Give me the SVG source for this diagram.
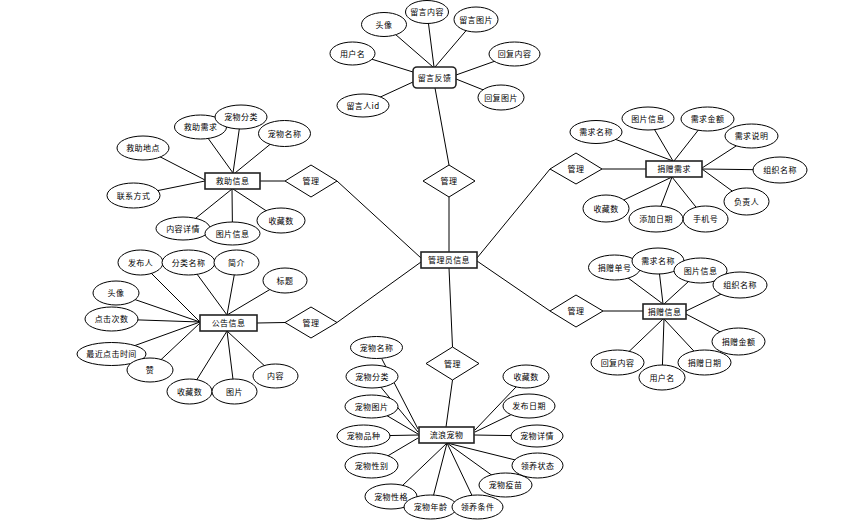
<svg xmlns="http://www.w3.org/2000/svg" width="859" height="526" viewBox="0 0 859 526">
<style>
.bg{fill:#fff}
.ln{stroke:#000;stroke-width:1;fill:none}
.a{fill:#fff;stroke:#000;stroke-width:1}
.e{fill:#fff;stroke:#222;stroke-width:1.6}
.r{fill:#fff;stroke:#000;stroke-width:1}
text{font-family:"Noto Sans CJK SC","Liberation Sans",sans-serif;font-size:8px;letter-spacing:0.4px;text-anchor:middle;fill:#000}
</style>
<rect class="bg" x="0" y="0" width="859" height="526"/>
<g id="connectors">
<!-- 留言反馈 -->
<line class="ln" x1="384" y1="24.5" x2="433" y2="67"/>
<line class="ln" x1="427" y1="12" x2="434" y2="67"/>
<line class="ln" x1="476" y1="19" x2="435" y2="67"/>
<line class="ln" x1="352" y1="53" x2="413" y2="72"/>
<line class="ln" x1="363" y1="105" x2="413" y2="82"/>
<line class="ln" x1="515" y1="54" x2="456" y2="75"/>
<line class="ln" x1="501" y1="97" x2="456" y2="79"/>
<line class="ln" x1="435" y1="88" x2="449" y2="165"/>
<line class="ln" x1="449" y1="197" x2="449" y2="252"/>
<!-- 救助信息 -->
<line class="ln" x1="200" y1="127" x2="233" y2="173"/>
<line class="ln" x1="241" y1="117" x2="233" y2="173"/>
<line class="ln" x1="284" y1="133" x2="235" y2="173"/>
<line class="ln" x1="143" y1="148" x2="205" y2="180"/>
<line class="ln" x1="133.5" y1="195.5" x2="205" y2="181"/>
<line class="ln" x1="183" y1="228.5" x2="232" y2="189"/>
<line class="ln" x1="232.5" y1="233.5" x2="232" y2="189"/>
<line class="ln" x1="281" y1="220.5" x2="233" y2="189"/>
<line class="ln" x1="260" y1="181" x2="285" y2="181"/>
<line class="ln" x1="337" y1="181" x2="421" y2="258"/>
<!-- 捐赠需求 -->
<line class="ln" x1="596" y1="132" x2="673" y2="161"/>
<line class="ln" x1="648" y1="118.5" x2="673" y2="161"/>
<line class="ln" x1="707" y1="119" x2="674" y2="161"/>
<line class="ln" x1="751.5" y1="136" x2="702" y2="168"/>
<line class="ln" x1="780" y1="170" x2="702" y2="169"/>
<line class="ln" x1="746.5" y1="201.5" x2="702" y2="169"/>
<line class="ln" x1="705.5" y1="219" x2="672" y2="177"/>
<line class="ln" x1="656" y1="219" x2="672" y2="177"/>
<line class="ln" x1="606" y1="208.5" x2="672" y2="177"/>
<line class="ln" x1="602" y1="169" x2="646" y2="169"/>
<line class="ln" x1="550" y1="169" x2="477" y2="258"/>
<!-- 公告信息 -->
<line class="ln" x1="140.5" y1="262.5" x2="200" y2="322"/>
<line class="ln" x1="188.5" y1="262.5" x2="227" y2="315"/>
<line class="ln" x1="236.5" y1="262.5" x2="227" y2="315"/>
<line class="ln" x1="285" y1="280.5" x2="227" y2="315"/>
<line class="ln" x1="116" y1="293" x2="200" y2="322"/>
<line class="ln" x1="111.5" y1="319" x2="200" y2="322"/>
<line class="ln" x1="111.5" y1="354" x2="200" y2="322"/>
<line class="ln" x1="150" y1="370" x2="200" y2="323"/>
<line class="ln" x1="189.5" y1="391.5" x2="227" y2="331"/>
<line class="ln" x1="234.5" y1="391.5" x2="227" y2="331"/>
<line class="ln" x1="275.5" y1="376" x2="227" y2="331"/>
<line class="ln" x1="257" y1="323" x2="285" y2="322.5"/>
<line class="ln" x1="337" y1="322.5" x2="421" y2="262"/>
<!-- 捐赠信息 -->
<line class="ln" x1="614" y1="267.5" x2="663" y2="304"/>
<line class="ln" x1="658" y1="261" x2="663" y2="304"/>
<line class="ln" x1="700.5" y1="270.5" x2="664" y2="304"/>
<line class="ln" x1="740" y1="285" x2="686" y2="311"/>
<line class="ln" x1="738.5" y1="341.5" x2="686" y2="314"/>
<line class="ln" x1="617.5" y1="362.5" x2="663" y2="319"/>
<line class="ln" x1="662" y1="377.5" x2="664" y2="319"/>
<line class="ln" x1="704.5" y1="362.5" x2="664" y2="319"/>
<line class="ln" x1="603" y1="311" x2="643" y2="311"/>
<line class="ln" x1="550" y1="311" x2="477" y2="261"/>
<!-- 流浪宠物 -->
<line class="ln" x1="376" y1="347.5" x2="418" y2="429"/>
<line class="ln" x1="372" y1="376.5" x2="418" y2="432"/>
<line class="ln" x1="371.5" y1="406.5" x2="418" y2="434"/>
<line class="ln" x1="363.5" y1="436" x2="419" y2="435"/>
<line class="ln" x1="371.5" y1="465.5" x2="418" y2="438"/>
<line class="ln" x1="391" y1="496.5" x2="447" y2="443"/>
<line class="ln" x1="430.5" y1="507" x2="447" y2="443"/>
<line class="ln" x1="477.5" y1="507" x2="447" y2="443"/>
<line class="ln" x1="505.5" y1="485" x2="447" y2="443"/>
<line class="ln" x1="537.5" y1="465.5" x2="447" y2="443"/>
<line class="ln" x1="537" y1="436" x2="474" y2="435"/>
<line class="ln" x1="529" y1="406" x2="475" y2="432"/>
<line class="ln" x1="526" y1="376.5" x2="475" y2="430"/>
<line class="ln" x1="449" y1="268" x2="452.5" y2="347"/>
<line class="ln" x1="452.5" y1="380" x2="446" y2="427"/>
</g>

<g id="attr-liuyan">
<ellipse class="a" cx="384" cy="24.5" rx="22.5" ry="12"/><text x="384" y="27.5">头像</text>
<ellipse class="a" cx="427" cy="12" rx="21.5" ry="11.5"/><text x="427" y="15">留言内容</text>
<ellipse class="a" cx="476" cy="19.5" rx="22" ry="12.5"/><text x="476" y="22.5">留言图片</text>
<ellipse class="a" cx="352.5" cy="53.5" rx="22.5" ry="11.5"/><text x="352.5" y="56.5">用户名</text>
<ellipse class="a" cx="363" cy="105.5" rx="26" ry="11.5"/><text x="363" y="108.5">留言人id</text>
<ellipse class="a" cx="514.5" cy="54" rx="25.5" ry="12"/><text x="514.5" y="57">回复内容</text>
<ellipse class="a" cx="501" cy="97.5" rx="23" ry="12.5"/><text x="501" y="100.5">回复图片</text>
</g>
<g id="attr-jiuzhu">
<ellipse class="a" cx="200.5" cy="127" rx="26" ry="12"/><text x="200.5" y="130">救助需求</text>
<ellipse class="a" cx="241" cy="117" rx="26" ry="12"/><text x="241" y="120">宠物分类</text>
<ellipse class="a" cx="284.5" cy="133.5" rx="26" ry="13"/><text x="284.5" y="136.5">宠物名称</text>
<ellipse class="a" cx="143" cy="148" rx="26" ry="12"/><text x="143" y="151">救助地点</text>
<ellipse class="a" cx="133.5" cy="195.5" rx="26.5" ry="12.5"/><text x="133.5" y="198.5">联系方式</text>
<ellipse class="a" cx="183" cy="228.5" rx="27" ry="11.5"/><text x="183" y="231.5">内容详情</text>
<ellipse class="a" cx="232.5" cy="233.5" rx="27.5" ry="11.5"/><text x="232.5" y="236.5">图片信息</text>
<ellipse class="a" cx="281" cy="220.5" rx="24" ry="12.5"/><text x="281" y="223.5">收藏数</text>
</g>
<g id="attr-juanzengxuqiu">
<ellipse class="a" cx="596" cy="132" rx="26" ry="11.5"/><text x="596" y="135">需求名称</text>
<ellipse class="a" cx="648" cy="118.5" rx="26" ry="11.5"/><text x="648" y="121.5">图片信息</text>
<ellipse class="a" cx="707.5" cy="119" rx="26.5" ry="12"/><text x="707.5" y="122">需求金额</text>
<ellipse class="a" cx="751.5" cy="136" rx="26.5" ry="12"/><text x="751.5" y="139">需求说明</text>
<ellipse class="a" cx="780" cy="170" rx="27" ry="13"/><text x="780" y="173">组织名称</text>
<ellipse class="a" cx="746.5" cy="201.5" rx="22.5" ry="13.5"/><text x="746.5" y="204.5">负责人</text>
<ellipse class="a" cx="705.5" cy="219" rx="22.5" ry="13"/><text x="705.5" y="222">手机号</text>
<ellipse class="a" cx="656" cy="219" rx="27" ry="13"/><text x="656" y="222">添加日期</text>
<ellipse class="a" cx="606" cy="208.5" rx="23" ry="13.5"/><text x="606" y="211.5">收藏数</text>
</g>
<g id="attr-gonggao">
<ellipse class="a" cx="140.5" cy="262.5" rx="22.5" ry="12.5"/><text x="140.5" y="265.5">发布人</text>
<ellipse class="a" cx="188.5" cy="262.5" rx="26.5" ry="12.5"/><text x="188.5" y="265.5">分类名称</text>
<ellipse class="a" cx="236.5" cy="262.5" rx="22.5" ry="12.5"/><text x="236.5" y="265.5">简介</text>
<ellipse class="a" cx="285" cy="280.5" rx="22" ry="12.5"/><text x="285" y="283.5">标题</text>
<ellipse class="a" cx="116" cy="293" rx="23" ry="12"/><text x="116" y="296">头像</text>
<ellipse class="a" cx="111.5" cy="319" rx="26.5" ry="12"/><text x="111.5" y="322">点击次数</text>
<ellipse class="a" cx="111.5" cy="354" rx="34.5" ry="11.5"/><text x="111.5" y="357">最近点击时间</text>
<ellipse class="a" cx="150" cy="370" rx="23" ry="12"/><text x="150" y="373">赞</text>
<ellipse class="a" cx="189.5" cy="391.5" rx="22.5" ry="12.5"/><text x="189.5" y="394.5">收藏数</text>
<ellipse class="a" cx="234.5" cy="391.5" rx="22.5" ry="12.5"/><text x="234.5" y="394.5">图片</text>
<ellipse class="a" cx="275.5" cy="376" rx="22.5" ry="12"/><text x="275.5" y="379">内容</text>
</g>
<g id="attr-juanzeng">
<ellipse class="a" cx="614.5" cy="267.5" rx="26" ry="12.5"/><text x="614.5" y="270.5">捐赠单号</text>
<ellipse class="a" cx="658" cy="261" rx="26" ry="13"/><text x="658" y="264">需求名称</text>
<ellipse class="a" cx="700.5" cy="270.5" rx="26.5" ry="12.5"/><text x="700.5" y="273.5">图片信息</text>
<ellipse class="a" cx="740" cy="285" rx="27" ry="13"/><text x="740" y="288">组织名称</text>
<ellipse class="a" cx="738.5" cy="341.5" rx="26.5" ry="13.5"/><text x="738.5" y="344.5">捐赠金额</text>
<ellipse class="a" cx="704.5" cy="362.5" rx="26.5" ry="12.5"/><text x="704.5" y="365.5">捐赠日期</text>
<ellipse class="a" cx="662" cy="377.5" rx="23" ry="12.5"/><text x="662" y="380.5">用户名</text>
<ellipse class="a" cx="617.5" cy="362.5" rx="26.5" ry="12.5"/><text x="617.5" y="365.5">回复内容</text>
</g>
<g id="attr-chongwu">
<ellipse class="a" cx="376.5" cy="347.5" rx="26" ry="11"/><text x="376.5" y="350.5">宠物名称</text>
<ellipse class="a" cx="372" cy="376.5" rx="26" ry="11.5"/><text x="372" y="379.5">宠物分类</text>
<ellipse class="a" cx="371.5" cy="406.5" rx="26.5" ry="11.5"/><text x="371.5" y="409.5">宠物图片</text>
<ellipse class="a" cx="363.5" cy="436" rx="26.5" ry="11"/><text x="363.5" y="439">宠物品种</text>
<ellipse class="a" cx="371.5" cy="465.5" rx="26.5" ry="12.5"/><text x="371.5" y="468.5">宠物性别</text>
<ellipse class="a" cx="391" cy="496.5" rx="26" ry="12.5"/><text x="391" y="499.5">宠物性格</text>
<ellipse class="a" cx="430.5" cy="507" rx="26.5" ry="12"/><text x="430.5" y="510">宠物年龄</text>
<ellipse class="a" cx="477.5" cy="507" rx="25.5" ry="12"/><text x="477.5" y="510">领养条件</text>
<ellipse class="a" cx="505.5" cy="485" rx="26.5" ry="12"/><text x="505.5" y="488">宠物疫苗</text>
<ellipse class="a" cx="537.5" cy="465.5" rx="25.5" ry="12.5"/><text x="537.5" y="468.5">领养状态</text>
<ellipse class="a" cx="537" cy="436" rx="26" ry="11"/><text x="537" y="439">宠物详情</text>
<ellipse class="a" cx="529" cy="406" rx="26" ry="12"/><text x="529" y="409">发布日期</text>
<ellipse class="a" cx="526" cy="376.5" rx="23" ry="11.5"/><text x="526" y="379.5">收藏数</text>
</g>

<g id="rel-liuyan"><polygon class="r" points="449,165 475,181 449,197 423,181"/><text x="449" y="184">管理</text></g>
<g id="rel-jiuzhu"><polygon class="r" points="311,165 337,181 311,197 285,181"/><text x="311" y="184">管理</text></g>
<g id="rel-gonggao"><polygon class="r" points="311,307 337,322.5 311,338 285,322.5"/><text x="311" y="325.5">管理</text></g>
<g id="rel-juanzengxuqiu"><polygon class="r" points="576,153 602,169 576,184 550,169"/><text x="576" y="172">管理</text></g>
<g id="rel-juanzeng"><polygon class="r" points="576,295 603,311 576,327 550,311"/><text x="576" y="314">管理</text></g>
<g id="rel-chongwu"><polygon class="r" points="452.5,347 479,363.5 452.5,380 426,363.5"/><text x="452.5" y="366.5">管理</text></g>

<g id="ent-admin"><rect class="e" x="421" y="252" width="56" height="16"/><text x="449" y="263">管理员信息</text></g>
<g id="ent-liuyan"><rect class="e" x="413" y="67" width="43" height="21" rx="4"/><text x="434.5" y="80.5">留言反馈</text></g>
<g id="ent-jiuzhu"><rect class="e" x="205" y="173" width="55" height="16"/><text x="232.5" y="184">救助信息</text></g>
<g id="ent-juanzengxuqiu"><rect class="e" x="646" y="161" width="56" height="16"/><text x="674" y="172">捐赠需求</text></g>
<g id="ent-gonggao"><rect class="e" x="200" y="315" width="57" height="16"/><text x="228.5" y="326">公告信息</text></g>
<g id="ent-juanzeng"><rect class="e" x="643" y="304" width="43" height="15"/><text x="664.5" y="314.5">捐赠信息</text></g>
<g id="ent-chongwu"><rect class="e" x="419" y="427" width="55" height="16"/><text x="446.5" y="438">流浪宠物</text></g>
</svg>
